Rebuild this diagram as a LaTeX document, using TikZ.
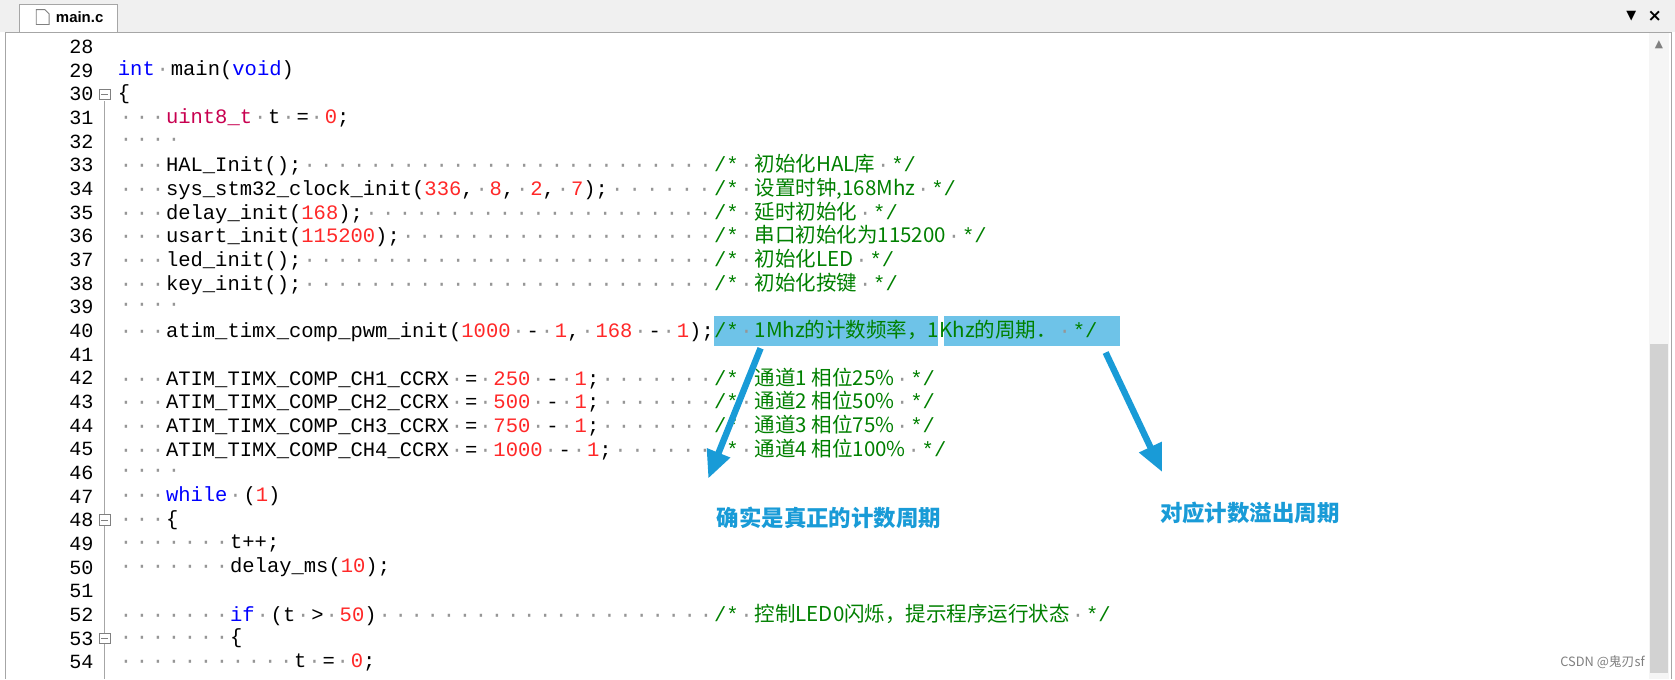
\documentclass[tikz,border=0pt]{standalone}
\usepackage{fontspec}
\setmainfont{Liberation Sans}
\setmonofont{Liberation Mono}
\newfontfamily\cjk{Noto Sans CJK SC}
\newfontfamily\dvs{DejaVu Sans}
\usetikzlibrary{arrows.meta}
\definecolor{dotc}{RGB}{150,150,150}
\definecolor{kw}{RGB}{0,0,255}
\definecolor{num}{RGB}{255,40,40}
\definecolor{cm}{RGB}{0,128,0}
\definecolor{ty}{RGB}{200,0,80}
\definecolor{hl}{RGB}{110,195,232}
\definecolor{arr}{RGB}{25,155,215}
\renewcommand\S{\makebox[7.5pt]{\textcolor{dotc}{·}}}
\newcommand\K[1]{\textcolor{kw}{#1}}
\newcommand\N[1]{\textcolor{num}{#1}}
\newcommand\Cm[1]{\textcolor{cm}{#1}}
\newcommand\Z[1]{{\cjk #1}}
\newcommand\Lc[2]{\makebox[279pt][l]{#1\textcolor{dotc}{\xleaders\hbox to 7.5pt{\hss·\hss}\hfill}}\Cm{#2}}
\begin{document}
\begin{tikzpicture}[x=0.5pt,y=-0.5pt,
  code/.style={anchor=west,inner sep=0pt,font=\ttfamily\fontsize{9.6pt}{10pt}\selectfont},
  lnum/.style={anchor=east,inner sep=0pt,font=\ttfamily\fontsize{9.42pt}{10pt}\selectfont},
  fold/.style={draw=gray,fill=white,minimum size=5pt,inner sep=0pt},
  big/.style={-{Triangle[length=13pt,width=11pt]},line width=3pt,draw=arr},
  lab/.style={text=arr,font=\cjk\bfseries\fontsize{10.5pt}{12pt}\selectfont,inner sep=0pt}]
\useasboundingbox (0,0) rectangle (1568,636);
\fill[white] (0,0) rectangle (1568,636);
\fill[gray!12] (0,0) rectangle (1568,30);
\draw[gray!70] (5,30) -- (5,636) (5,30) -- (1565,30) -- (1565,636);
\draw[gray!70,fill=white] (18,30) -- (18,4) -- (110,4) -- (110,30);
\draw[gray] (34,9) -- (34,23) -- (46,23) -- (46,13) -- (42,9) -- cycle;
\node[anchor=west,font=\bfseries\fontsize{7pt}{8pt}\selectfont,inner sep=0pt] (tab) at (52,16) {main.c};
\node[font=\dvs\fontsize{6pt}{7pt}\selectfont] (dd) at (1527,15) {▼};
\node[font=\dvs\bfseries\fontsize{8pt}{9pt}\selectfont] (xx) at (1549,15) {×};
\fill[gray!8] (1544,31) rectangle (1562,636);
\fill[gray!35] (1545,322) rectangle (1561,630);
\node[font=\dvs\fontsize{5pt}{6pt}\selectfont,text=gray] (up) at (1553,42) {▲};
\draw[gray!70] (98,95) -- (98,636);
\foreach \n in {30,48,53}{
  \node[fold] (f\n) at (98,{44+(\n-28)*22.15}) {};
  \draw[gray] ({98-3},{44+(\n-28)*22.15}) -- ({98+3},{44+(\n-28)*22.15});
}
\foreach \n in {28,...,54}{
  \node[lnum] (n\n) at (88,{44+(\n-28)*22.15}) {\n};
}
\fill[hl] (668,296) rectangle (878,324);
\fill[hl] (884,296) rectangle (1048,324);
\newcommand\Y[1]{{44+(#1-28)*22.15}}
\node[code] (l29) at (110,\Y{29}) {\K{int}\S main(\K{void})};
\node[code] (l30) at (110,\Y{30}) {\{};
\node[code] (l31) at (110,\Y{31}) {\S\S\S\textcolor{ty}{uint8\_t}\S t\S=\S\N{0};};
\node[code] (l32) at (110,\Y{32}) {\S\S\S\S};
\node[code] (l33) at (110,\Y{33}) {\Lc{\S\S\S HAL\_Init();}{/*\S\Z{初始化HAL库}\S*/}};
\node[code] (l34) at (110,\Y{34}) {\Lc{\S\S\S sys\_stm32\_clock\_init(\N{336},\S\N{8},\S\N{2},\S\N{7});}{/*\S\Z{设置时钟,168Mhz}\S*/}};
\node[code] (l35) at (110,\Y{35}) {\Lc{\S\S\S delay\_init(\N{168});}{/*\S\Z{延时初始化}\S*/}};
\node[code] (l36) at (110,\Y{36}) {\Lc{\S\S\S usart\_init(\N{115200});}{/*\S\Z{串口初始化为115200}\S*/}};
\node[code] (l37) at (110,\Y{37}) {\Lc{\S\S\S led\_init();}{/*\S\Z{初始化LED}\S*/}};
\node[code] (l38) at (110,\Y{38}) {\Lc{\S\S\S key\_init();}{/*\S\Z{初始化按键}\S*/}};
\node[code] (l39) at (110,\Y{39}) {\S\S\S\S};
\node[code] (l40) at (110,\Y{40}) {\Lc{\S\S\S atim\_timx\_comp\_pwm\_init(\N{1000}\S-\S\N{1},\S\N{168}\S-\S\N{1});}{/*\S\Z{1Mhz的计数频率，1Khz的周期．}\S*/}};
\node[code] (l42) at (110,\Y{42}) {\Lc{\S\S\S ATIM\_TIMX\_COMP\_CH1\_CCRX\S=\S\N{250}\S-\S\N{1};}{/*\S\Z{通道1 相位25\%}\S*/}};
\node[code] (l43) at (110,\Y{43}) {\Lc{\S\S\S ATIM\_TIMX\_COMP\_CH2\_CCRX\S=\S\N{500}\S-\S\N{1};}{/*\S\Z{通道2 相位50\%}\S*/}};
\node[code] (l44) at (110,\Y{44}) {\Lc{\S\S\S ATIM\_TIMX\_COMP\_CH3\_CCRX\S=\S\N{750}\S-\S\N{1};}{/*\S\Z{通道3 相位75\%}\S*/}};
\node[code] (l45) at (110,\Y{45}) {\Lc{\S\S\S ATIM\_TIMX\_COMP\_CH4\_CCRX\S=\S\N{1000}\S-\S\N{1};}{/*\S\Z{通道4 相位100\%}\S*/}};
\node[code] (l46) at (110,\Y{46}) {\S\S\S\S};
\node[code] (l47) at (110,\Y{47}) {\S\S\S\K{while}\S(\N{1})};
\node[code] (l48) at (110,\Y{48}) {\S\S\S\{};
\node[code] (l49) at (110,\Y{49}) {\S\S\S\S\S\S\S t++;};
\node[code] (l50) at (110,\Y{50}) {\S\S\S\S\S\S\S delay\_ms(\N{10});};
\node[code] (l52) at (110,\Y{52}) {\Lc{\S\S\S\S\S\S\S\K{if}\S(t\S>\S\N{50})}{/*\S\Z{控制LED0闪烁，提示程序运行状态}\S*/}};
\node[code] (l53) at (110,\Y{53}) {\S\S\S\S\S\S\S\{};
\node[code] (l54) at (110,\Y{54}) {\S\S\S\S\S\S\S\S\S\S\S t\S=\S\N{0};};
\coordinate (a1) at (712,326); \coordinate (b1) at (663,448);
\coordinate (a2) at (1035,330); \coordinate (b2) at (1088,442);
\draw[big] (a1) -- (b1);
\draw[big] (a2) -- (b2);
\node[lab] (t1) at (776,485) {确实是真正的计数周期};
\node[lab] (t2) at (1170,480) {对应计数溢出周期};
\node[anchor=east,inner sep=0pt,text=gray,font=\cjk\fontsize{6pt}{7pt}\selectfont] (wm) at (1540,620) {CSDN @鬼刃sf};
\end{tikzpicture}
\end{document}
